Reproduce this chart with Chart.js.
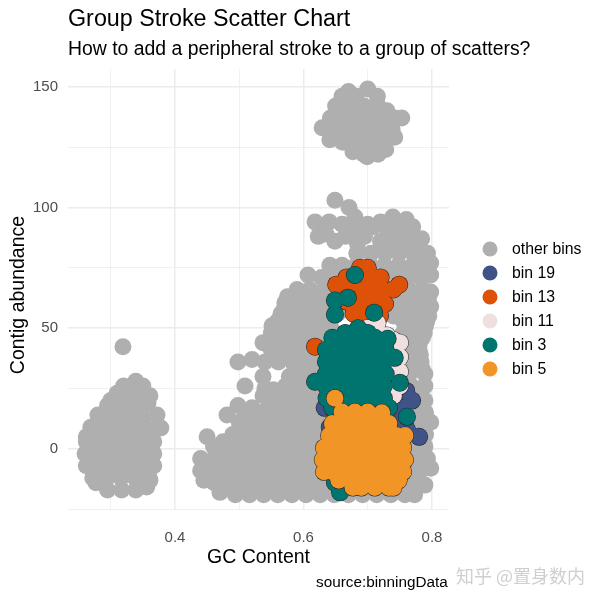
<!DOCTYPE html>
<html>
<head>
<meta charset="utf-8">
<title>Group Stroke Scatter Chart</title>
<script src="https://cdn.jsdelivr.net/npm/chart.js@4"></script>
<style>
  html, body { margin: 0; padding: 0; background: #fff; }
  canvas { display: block; }
</style>
</head>
<body>
<canvas id="chart" width="600" height="600"></canvas>
<script>
'use strict';

const xGridValues = [0.3, 0.4, 0.5, 0.6, 0.7, 0.8];
const xTickLabels = ['0.4', '0.6', '0.8'];
const yGridValues = [-25, 0, 25, 50, 75, 100, 125, 150];
const yTickLabels = ['0', '50', '100', '150'];

const legendNames = ['other bins', 'bin 19', 'bin 13', 'bin 11', 'bin 3', 'bin 5'];
const legendColors = ['#afafaf', '#3f5389', '#dd5108', '#efe0df', '#00746f', '#f29527'];

// [gc, abundance]
const otherBins = [
  // left blob
  [.319,42.3],[.339,28],[.32,26],[.35,26],[.361,22],[.30,20],
  [.31,23],[.328,23],[.35,23],[.295,18],[.317,18],[.339,18],[.358,19],
  [.28,14],[.282,13],[.306,13],[.328,13],[.35,13],[.372,14],
  [.269,9],[.272,8],[.295,8],[.317,8],[.339,8],[.361,8],[.378,8.7],
  [.262,5],[.262,3],[.284,3],[.306,3],[.328,3],[.35,3],[.367,3],
  [.26,-2],[.273,-2],[.295,-2],[.317,-2],[.339,-2],[.361,-2],[.367,-2],
  [.262,-7],[.284,-7],[.306,-7],[.328,-7],[.35,-7],[.367,-7],
  [.272,-12],[.294,-12],[.316,-12],[.338,-12],[.36,-12],[.277,-14],[.361,-13],
  [.295,-17],[.317,-17],[.339,-17],[.356,-15.8],
  // top blob
  [.67,148],[.70,149],[.66,146],[.682,146],[.715,146],
  [.65,142],[.672,142],[.694,142],[.716,142],[.73,140],
  [.642,137],[.661,137],[.683,137],[.705,137],[.727,137],[.742,137],[.753,137],
  [.629,133],[.65,132],[.672,132],[.694,132],[.716,132],[.738,132],
  [.641,128],[.661,127],[.683,127],[.705,127],[.727,127],[.742,129],
  [.677,123],[.694,122],[.716,122],[.728,124],[.699,121],
  // upper main cluster
  [.649,103],[.671,100],[.68,96],[.618,94],[.64,94],[.66,93],[.623,88],[.649,86],[.635,89],[.665,88],
  [.739,96],[.72,94],[.70,93],[.76,95],[.69,92],[.68,90],
  [.708,92],[.73,91],[.752,91],[.77,92],[.695,88],[.72,86],[.742,86],[.764,86],[.784,87],
  [.683,81],[.705,81],[.727,81],[.749,81],[.771,81],[.793,81],[.684,85],[.78,84],
  [.641,76],[.66,76],[.682,76],[.704,76],[.726,76],[.748,76],[.77,76],[.798,77],[.785,76],
  [.607,72],[.628,71],[.65,71],[.672,71],[.694,71],[.716,71],[.738,71],[.76,71],[.782,71],[.798,72],
  [.59,66],[.61,66],[.632,66],[.654,66],[.676,66],[.698,66],[.72,66],[.742,66],[.764,66],[.786,66],[.798,65],
  [.575,63],[.595,63],[.617,63],[.639,63],[.76,63],[.775,63],[.795,63],
  [.571,60.5],[.59,61],[.61,61],[.632,61],[.654,61],[.742,61],[.764,61],[.786,61],[.798,59],
  [.57,58],[.598,58],[.62,58],[.642,58],[.765,58],[.775,58],[.79,58],
  [.565,56],[.587,56],[.609,56],[.631,56],[.653,56],[.753,56],[.775,56],[.795,55],
  [.56,53],[.575,54],[.598,53],[.62,53],[.64,53],[.755,53],[.775,53],[.792,53],
  [.551,51],[.576,51],[.598,51],[.62,51],[.642,51],[.764,51],[.79,51],
  [.55,48],[.565,48],[.587,48],[.609,48],[.631,48],[.755,48],[.775,48],[.788,48],
  [.537,44],[.56,46],[.582,46],[.604,46],[.626,46],[.648,46],[.765,46],[.785,46],
  [.545,43],[.572,43],[.594,43],[.616,43],[.638,43],[.762,43],[.772,43],[.78,43],
  [.55,41],[.572,41],[.594,41],[.616,41],[.638,41],[.76,41],[.78,41],
  [.56,38],[.583,39],[.605,39],[.627,39],[.77,39],[.782,39],
  [.498,36],[.52,37],[.54,36],[.561,36],[.583,36],[.605,36],[.627,36],[.765,36],[.783,36],
  [.537,30],[.578,30],[.598,31],[.62,31],[.642,31],[.765,31],[.789,31],
  [.59,33],[.612,33],[.634,33],[.76,33],[.775,33],[.785,33],
  [.509,26],[.572,26],[.594,26],[.616,26],[.638,26],[.76,28],[.768,26],[.789,26],
  [.553,24.5],[.54,25],[.575,24],[.605,24],[.627,24],[.78,24],
  [.537,22],[.558,22],[.58,21],[.602,21],[.624,21],[.77,23],[.775,21],[.789,20],
  [.55,19],[.57,19],[.592,19],[.614,19],[.636,19],[.765,18],[.78,18],
  [.498,18],[.52,17],[.542,16],[.564,16],[.586,16],[.608,16],[.63,16],[.77,16],[.79,15],
  [.51,14],[.532,14],[.554,14],[.576,14],[.598,14],[.62,14],[.785,14],
  [.481,14],[.50,11],[.522,11],[.544,11],[.566,11],[.588,11],[.61,11],[.632,11],[.776,11],[.798,11],
  [.50,8],[.522,8],[.544,8],[.566,8],[.588,8],[.61,8],[.632,8],[.785,8],
  [.45,5],[.49,6],[.512,6],[.534,6],[.556,6],[.578,6],[.60,6],[.622,6],[.644,6],[.768,6],[.79,6],
  [.475,3],[.50,3],[.522,3],[.544,3],[.566,3],[.588,3],[.61,3],[.632,3],[.78,3],
  [.46,1],[.478,1],[.50,1],[.522,1],[.544,1],[.566,1],[.588,1],[.61,1],[.632,1],[.76,1],[.78,1],[.789,1],
  // lower mass
  [.44,-4],[.461,-4],[.483,-4],[.505,-4],[.527,-4],[.549,-4],[.571,-4],[.593,-4],[.615,-4],[.637,-4],[.771,-4],[.793,-4],
  [.44,-9],[.45,-9],[.472,-9],[.494,-9],[.516,-9],[.538,-9],[.56,-9],[.582,-9],[.604,-9],[.626,-9],[.76,-9],[.782,-9],[.798,-8],
  [.445,-13],[.461,-14],[.483,-14],[.505,-14],[.527,-14],[.549,-14],[.571,-14],[.593,-14],[.615,-14],[.637,-14],[.771,-14],[.789,-15],
  [.47,-18],[.494,-19],[.516,-19],[.538,-19],[.56,-19],[.582,-19],[.604,-19],[.626,-19],[.648,-19],[.67,-19],[.692,-19],[.714,-19],[.736,-19],[.758,-19],[.773,-19],
  // under the coloured bins
  [.68,40],[.70,20],[.75,40],[.65,10],[.70,10],[.75,10],[.74,55],[.72,48],[.76,30],[.66,-8],[.76,2]
];

const bin19 = [
  [.769,20],[.76,24],[.755,17],[.745,14],[.75,9],[.761,8],[.78,5],[.633,17],[.641,9],[.65,12],[.70,5]
];

const bin13 = [
  [.618,42.3],[.688,75],[.70,75],[.667,71],[.689,71],[.711,71],[.72,71],
  [.651,68],[.656,66],[.678,66],[.70,66],[.722,66],[.74,66],[.749,68],
  [.667,61],[.689,61],[.711,61],[.727,60],[.678,56],[.70,56],[.719,55],[.689,51],[.711,51]
];

const bin11 = [
  [.715,52],[.70,50],[.73,47],[.74,45],[.75,44],[.75,38],[.75,32],[.75,26],[.74,22],[.72,30],[.735,35],[.74,30],[.74,40]
];

const bin3 = [
  [.68,72],[.669,62.6],[.649,61.4],[.649,55.6],[.71,56.4],
  [.665,48],[.685,50],[.70,48],
  [.645,46],[.667,46],[.689,46],[.711,46],[.731,45.6],
  [.635,41],[.656,41],[.678,41],[.70,41],[.722,41],[.728,41],
  [.635,36],[.645,36],[.667,36],[.689,36],[.711,36],[.725,36],[.742,37.7],
  [.635,31],[.656,31],[.678,31],[.70,31],[.722,31],[.728,31],
  [.618,27.8],[.635,26],[.645,26],[.667,26],[.689,26],[.711,26],[.725,26],[.75,27.4],
  [.636,21],[.656,21],[.678,21],[.70,21],[.722,21],[.725,21],
  [.645,17],[.667,17],[.689,17],[.711,17],[.733,17],
  [.761,13.3],[.649,-14],[.657,-18]
];

const bin5 = [
  [.649,21],[.66,15.3],[.68,15.3],[.70,15.3],[.722,15],
  [.645,10.5],[.667,10.5],[.689,10.5],[.711,10.5],[.733,10.5],
  [.64,5.5],[.656,5.5],[.678,5.5],[.70,5.5],[.722,5.5],[.744,5.5],[.758,5.5],
  [.632,.5],[.645,.5],[.667,.5],[.689,.5],[.711,.5],[.733,.5],[.755,.5],
  [.63,-4.5],[.645,-3],[.656,-4.5],[.678,-4.5],[.70,-4.5],[.722,-4.5],[.744,-4.5],[.758,-4.5],
  [.632,-9.5],[.645,-9.5],[.667,-9.5],[.689,-9.5],[.711,-9.5],[.733,-9.5],[.755,-9.5],
  [.655,-13],[.678,-13],[.70,-13],[.722,-13],[.748,-13],
  [.677,-16],[.69,-16],[.711,-16],[.733,-16],[.74,-16]
];

const STROKE = '#222';
const POINT_R = 8.5;

function toPoints(rows) {
  return rows.map(r => ({ x: r[0], y: r[1] }));
}

function fillSet(rows, color, order) {
  return { data: toPoints(rows), backgroundColor: color, pointRadius: POINT_R, pointBorderWidth: 0, order };
}

// the group stroke: same points a little bigger, drawn right under the fill
function strokeSet(rows, order) {
  return { data: toPoints(rows), backgroundColor: STROKE, pointRadius: POINT_R + 0.5, pointBorderWidth: 0, order };
}

const bins = [bin19, bin13, bin11, bin3, bin5];
const datasets = [fillSet(otherBins, legendColors[0], 100)];
bins.forEach((rows, i) => {
  const base = 50 - i * 10;
  datasets.push(strokeSet(rows, base + 1));
  datasets.push(fillSet(rows, legendColors[i + 1], base));
});

const textPlugin = {
  id: 'chartText',
  afterDraw(chart) {
    const ctx = chart.ctx;
    ctx.save();
    ctx.textBaseline = 'alphabetic';
    ctx.textAlign = 'left';
    ctx.fillStyle = '#000';
    ctx.font = '23.3px "Liberation Sans"';
    ctx.fillText('Group Stroke Scatter Chart', 68, 26);
    ctx.font = '19.4px "Liberation Sans"';
    ctx.fillText('How to add a peripheral stroke to a group of scatters?', 68, 55);
    ctx.font = '15.3px "Liberation Sans"';
    ctx.fillText('source:binningData', 316, 587);

    ctx.save();
    ctx.translate(24, 295);
    ctx.rotate(-Math.PI / 2);
    ctx.textAlign = 'center';
    ctx.font = '19.5px "Liberation Sans"';
    ctx.fillText('Contig abundance', 0, 0);
    ctx.restore();

    ctx.font = '15.8px "Liberation Sans"';
    legendNames.forEach((name, i) => {
      const y = 249 + i * 24;
      ctx.fillStyle = legendColors[i];
      ctx.beginPath();
      ctx.arc(490, y, 7.5, 0, Math.PI * 2);
      ctx.fill();
      ctx.fillStyle = '#000';
      ctx.fillText(name, 512, y + 5);
    });

    ctx.font = '18px "Noto Sans CJK SC"';
    ctx.fillStyle = '#cfcfcf';
    ctx.fillText('知乎 @置身数内', 456, 583);
    ctx.restore();
  }
};

new Chart(document.getElementById('chart').getContext('2d'), {
  type: 'scatter',
  data: { datasets },
  plugins: [textPlugin],
  options: {
    responsive: false,
    animation: false,
    layout: { padding: { top: 69, right: 151, left: 0, bottom: 0 } },
    plugins: { legend: { display: false }, title: { display: false }, tooltip: { enabled: false } },
    scales: {
      x: {
        min: 0.2335,
        max: 0.8265,
        afterFit: s => { s.height = 90; },
        afterBuildTicks: s => { s.ticks = xGridValues.map(value => ({ value })); },
        border: { display: false },
        grid: {
          drawTicks: false,
          color: '#ececec',
          lineWidth: c => (xTickLabels.includes(c.tick.value.toFixed(1)) ? 1.5 : 0.8)
        },
        ticks: {
          autoSkip: false,
          maxRotation: 0,
          padding: 19,
          color: '#4d4d4d',
          font: { family: 'Liberation Sans', size: 15 },
          callback: v => (xTickLabels.includes(v.toFixed(1)) ? v.toFixed(1) : '')
        },
        title: {
          display: true,
          text: 'GC Content',
          color: '#000',
          font: { family: 'Liberation Sans', size: 19.5 },
          padding: { top: 0, bottom: 31 }
        }
      },
      y: {
        min: -25.3,
        max: 157.3,
        afterFit: s => { s.width = 68; },
        afterBuildTicks: s => { s.ticks = yGridValues.map(value => ({ value })); },
        border: { display: false },
        grid: {
          drawTicks: false,
          color: '#ececec',
          lineWidth: c => (yTickLabels.includes(String(c.tick.value)) ? 1.5 : 0.8)
        },
        ticks: {
          autoSkip: false,
          padding: 10,
          color: '#4d4d4d',
          font: { family: 'Liberation Sans', size: 15 },
          callback: v => (yTickLabels.includes(String(v)) ? String(v) : '')
        }
      }
    }
  }
});
</script>
</body>
</html>
